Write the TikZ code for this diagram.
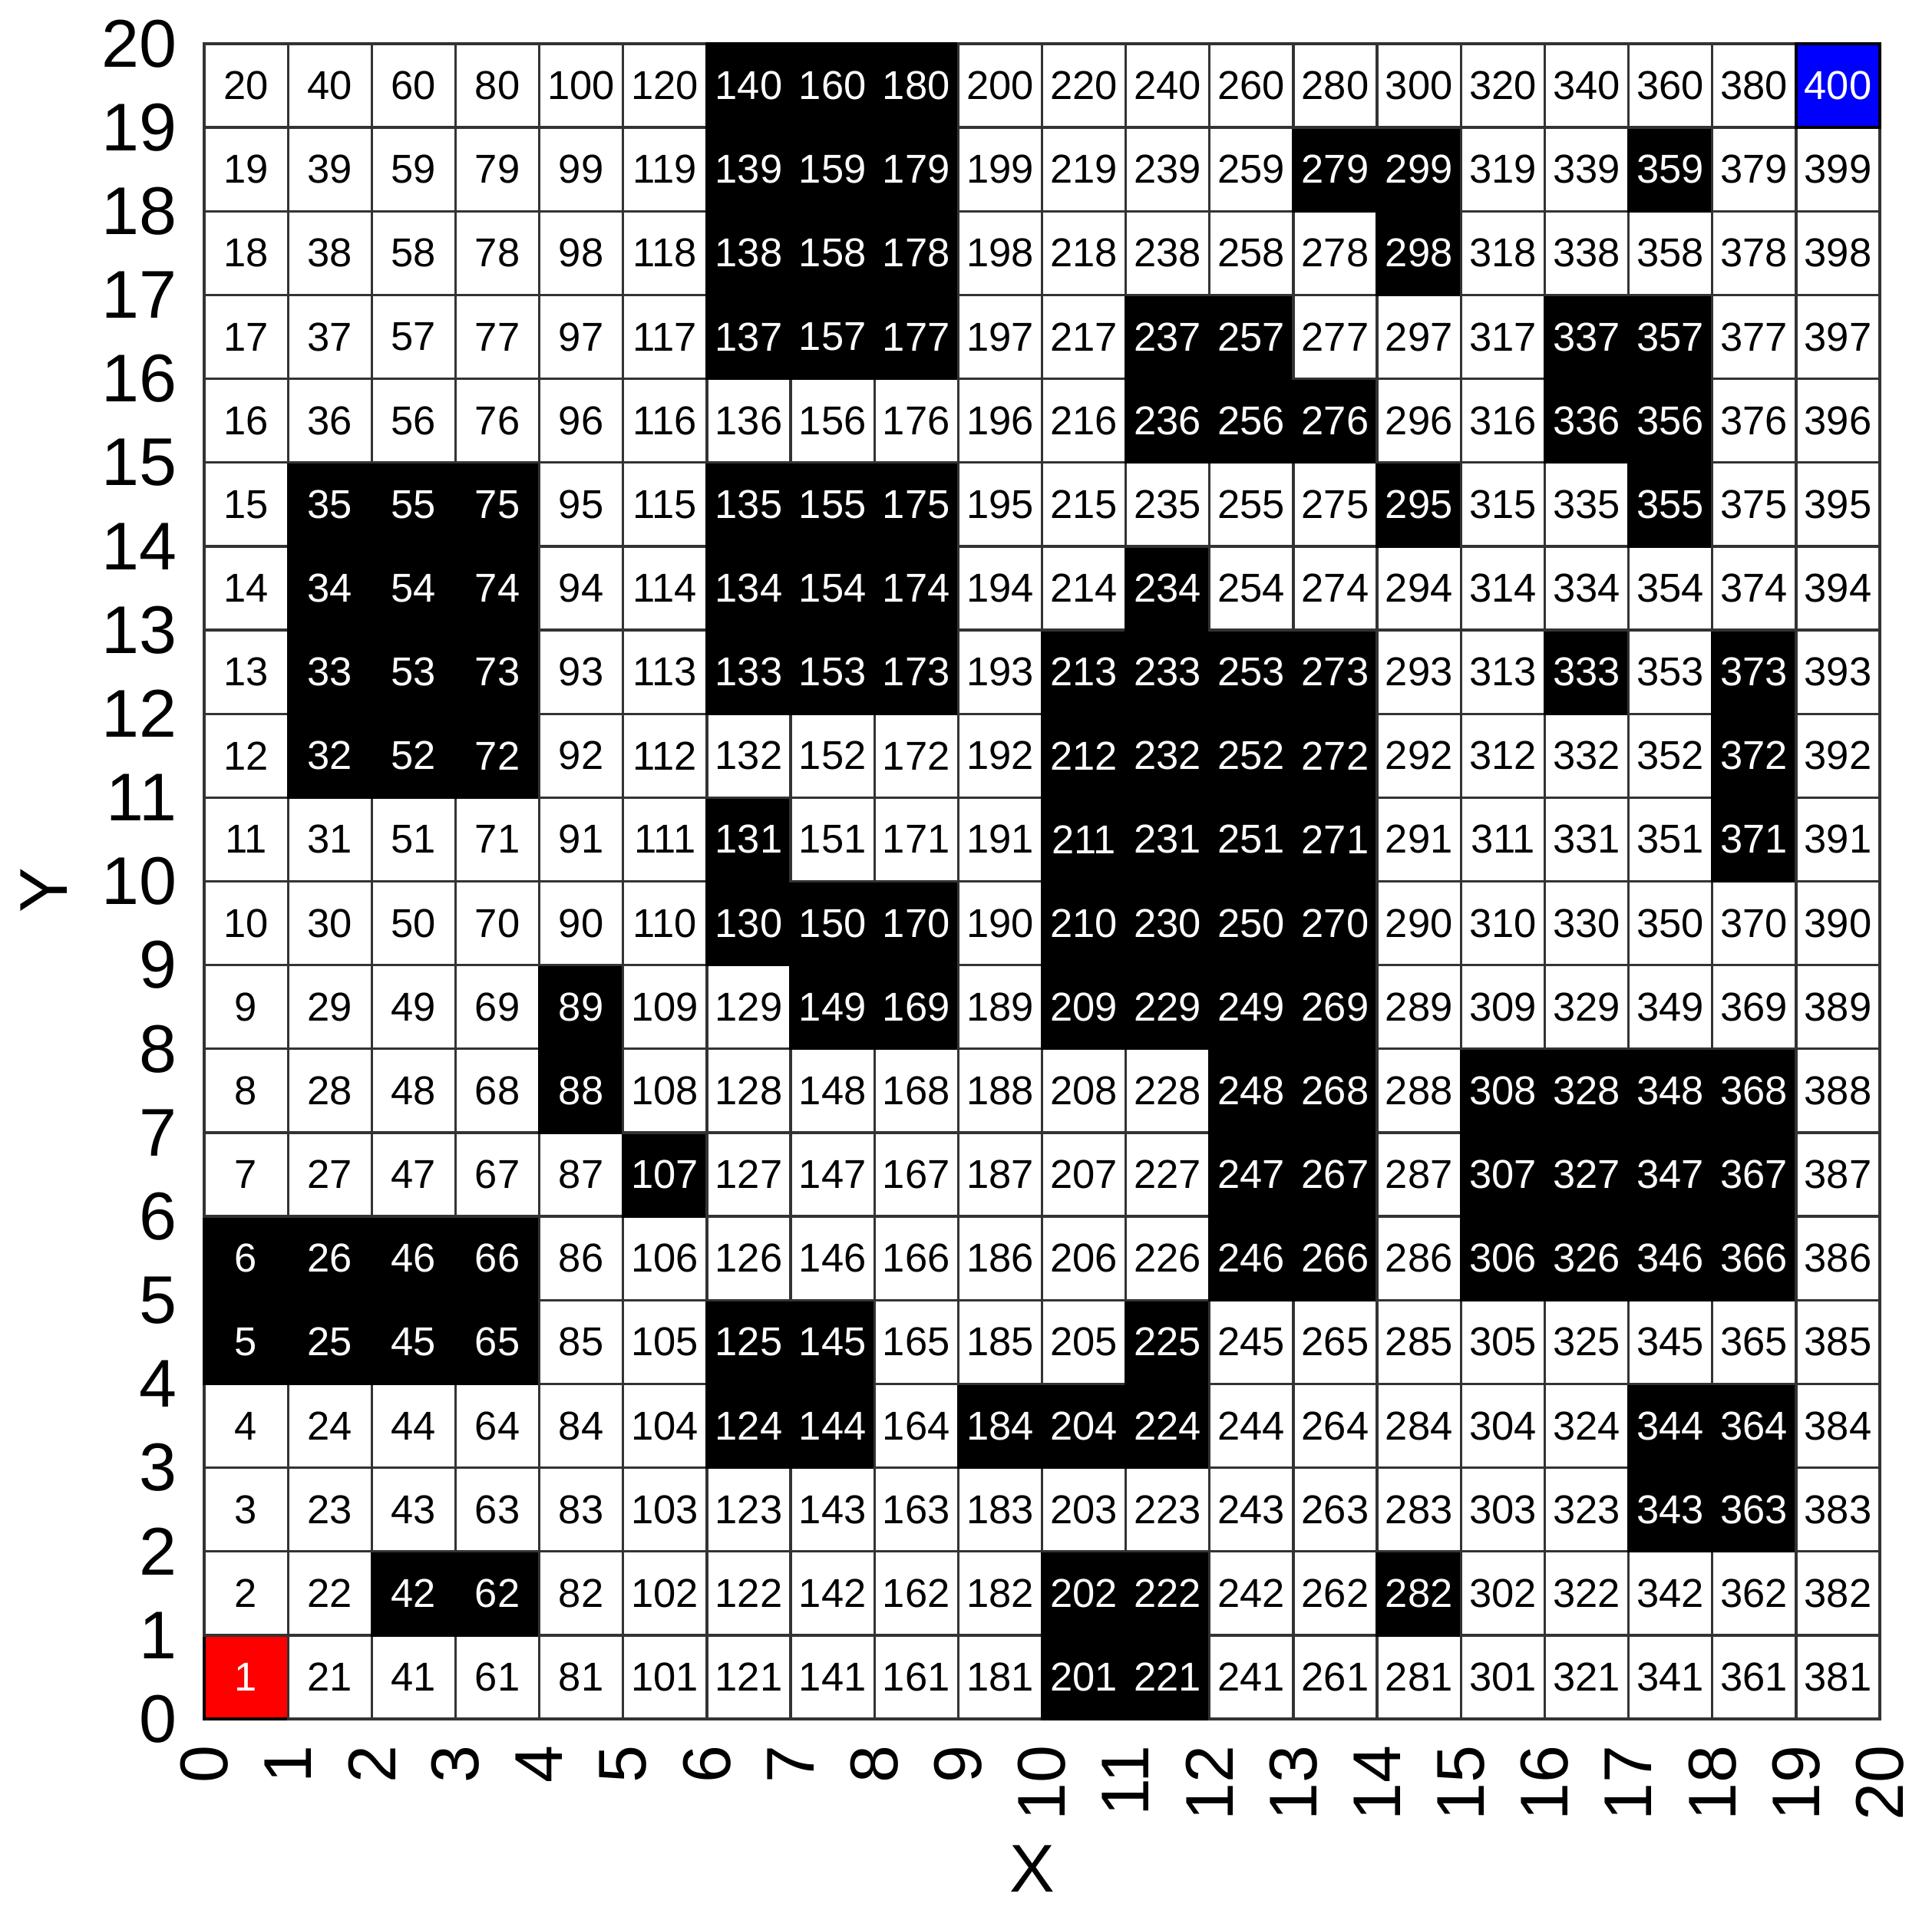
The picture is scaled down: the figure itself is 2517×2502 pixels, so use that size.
\documentclass[tikz,border=0pt]{standalone}
\usepackage{fontspec}
\setmainfont{Liberation Sans}
\makeatletter
\def\blacklist{,5,6,25,26,32,33,34,35,42,45,46,52,53,54,55,62,65,66,72,73,74,75,88,89,107,124,125,130,131,133,134,135,137,138,139,140,144,145,149,150,153,154,155,157,158,159,160,169,170,173,174,175,177,178,179,180,184,201,202,204,209,210,211,212,213,221,222,224,225,229,230,231,232,233,234,236,237,246,247,248,249,250,251,252,253,256,257,266,267,268,269,270,271,272,273,276,279,282,295,298,299,306,307,308,326,327,328,333,336,337,343,344,346,347,348,355,356,357,359,363,364,366,367,368,371,372,373,}
\newcommand\cellkind[1]{%
  \def\fillc{white}\def\textc{black}\def\drawc{black!80}%
  \edef\tmp{\noexpand\in@{,#1,}{\blacklist}}\tmp
  \ifin@\def\fillc{black}\def\textc{white}\def\drawc{black}\fi
  \ifnum#1=1 \def\fillc{red}\def\textc{white}\def\drawc{black}\fi
  \ifnum#1=400 \def\fillc{blue}\def\textc{white}\def\drawc{black}\fi}
\makeatother
\begin{document}
\begin{tikzpicture}[x=0.2pt,y=-0.2pt,
  cellbase/.style={rectangle, minimum width=21.83pt, minimum height=21.83pt,
    inner sep=0pt, line width=0.66pt, font=\fontsize{10.5}{12}\selectfont},
  ticklab/.style={font=\fontsize{17.6}{20}\selectfont, inner sep=0pt},
  axlab/.style={font=\fontsize{17.6}{20}\selectfont, inner sep=0pt}]
\path[use as bounding box, fill=white] (0,0) rectangle (2517,2502);
\foreach \i in {0,...,19}{
  \foreach \j in {0,...,19}{
    \pgfmathtruncatemacro\n{20*\i+\j+1}
    \cellkind{\n}
    \node[cellbase, fill=\fillc, draw=\drawc, text=\textc] (c\n)
      at ({266+(\i+0.5)*109.15},{2240-(\j+0.5)*109.15}) {\n};
  }
}
\foreach \k in {0,...,20}{
  \node[ticklab, anchor=east] (yt\k) at (231,{2240-\k*109.15}) {\k};
  \node[ticklab, anchor=east, rotate=90] (xt\k) at ({266+\k*109.15},2274) {\k};
}
\node[axlab] (xl) at (1345,2435) {X};
\node[axlab, rotate=90] (yl) at (57,1160) {Y};
\end{tikzpicture}
\end{document}
